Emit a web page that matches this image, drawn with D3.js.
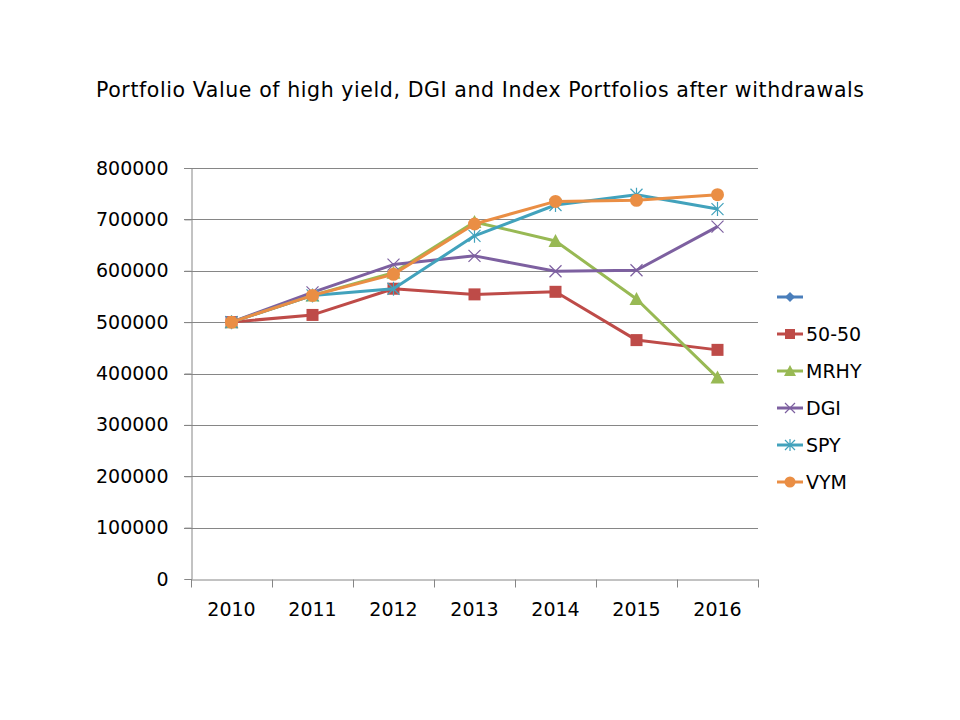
<!DOCTYPE html>
<html>
<head>
<meta charset="utf-8">
<script src="https://cdn.jsdelivr.net/npm/d3@7"></script>
<style>
  body { margin: 0; background: #fff; }
  text { font-family: "DejaVu Sans", sans-serif; fill: #000; }
</style>
</head>
<body>
<div id="chart"></div>
<script>
const years = ["2010", "2011", "2012", "2013", "2014", "2015", "2016"];
const yTicks = [0, 100000, 200000, 300000, 400000, 500000, 600000, 700000, 800000];

// first series has no name and no values, it only shows in the legend
const blank = [null, null, null, null, null, null, null];
const fiftyFifty = [500000, 514000, 565000, 554000, 559000, 465000, 446000];
const mrhy = [500000, 552000, 596000, 695000, 658000, 545000, 392000];
const dgi = [500000, 558000, 612000, 629000, 599000, 601000, 686000];
const spy = [500000, 552000, 565000, 668000, 728000, 748000, 720000];
const vym = [500000, 552000, 593000, 691000, 735000, 737000, 748000];

const series = [
  { name: "", values: blank, color: "#4A7EBB", marker: "diamond" },
  { name: "50-50", values: fiftyFifty, color: "#BE4B48", marker: "square" },
  { name: "MRHY", values: mrhy, color: "#98B954", marker: "triangle" },
  { name: "DGI", values: dgi, color: "#7D60A0", marker: "x" },
  { name: "SPY", values: spy, color: "#42A2BC", marker: "star" },
  { name: "VYM", values: vym, color: "#EA8E44", marker: "circle" }
];

const width = 960, height = 720;
const margin = { left: 191, right: 202, top: 168, bottom: 141 };

const svg = d3.select("#chart").append("svg")
  .attr("width", width)
  .attr("height", height);

const x = d3.scaleBand()
  .domain(years)
  .range([margin.left, width - margin.right]);

const y = d3.scaleLinear()
  .domain([0, 800000])
  .range([height - margin.bottom, margin.top]);

svg.append("text")
  .attr("x", 480)
  .attr("y", 97)
  .attr("text-anchor", "middle")
  .attr("textLength", 768)
  .style("font-size", "20.5px")
  .text("Portfolio Value of high yield, DGI and Index Portfolios after withdrawals");

// gridlines
svg.append("g")
  .selectAll("line")
  .data(yTicks.filter(d => d > 0))
  .join("line")
  .attr("x1", margin.left - 7)
  .attr("x2", width - margin.right)
  .attr("y1", d => Math.round(y(d)) + 0.5)
  .attr("y2", d => Math.round(y(d)) + 0.5)
  .attr("stroke", "#868686");

// y axis
const yAxis = svg.append("g")
  .attr("transform", `translate(${margin.left + 0.5},0)`)
  .call(d3.axisLeft(y).tickValues(yTicks).tickFormat(d3.format("d")).tickSize(7).tickPadding(16));
yAxis.select(".domain").attr("stroke", "#868686");
yAxis.selectAll(".tick line").attr("stroke", "#868686");
yAxis.selectAll("text").style("font-size", "19px").style("font-family", "DejaVu Sans, sans-serif");

// x axis, ticks on category boundaries
const xAxis = svg.append("g")
  .attr("transform", `translate(0,${Math.round(y(0)) + 0.5})`)
  .call(d3.axisBottom(x).tickSize(0).tickPadding(23));
xAxis.select(".domain").attr("stroke", "#868686");
xAxis.selectAll("text").style("font-size", "19px").style("font-family", "DejaVu Sans, sans-serif");
xAxis.append("g")
  .selectAll("line")
  .data(years.map(d => x(d)).concat([x(years[years.length - 1]) + x.bandwidth()]))
  .join("line")
  .attr("x1", d => Math.round(d) + 0.5)
  .attr("x2", d => Math.round(d) + 0.5)
  .attr("y1", 0)
  .attr("y2", 8)
  .attr("stroke", "#868686");

const cx = d => x(d) + x.bandwidth() / 2;

const line = d3.line()
  .defined(d => d.v != null)
  .x(d => cx(d.year))
  .y(d => y(d.v));

function drawMarker(g, type, color, size) {
  const s = size;
  if (type === "square") {
    g.append("rect").attr("x", -s).attr("y", -s).attr("width", 2 * s).attr("height", 2 * s).attr("fill", color);
  } else if (type === "diamond") {
    g.append("path").attr("d", `M0,${-s}L${s},0L0,${s}L${-s},0Z`).attr("fill", color);
  } else if (type === "triangle") {
    g.append("path").attr("d", `M0,${-s - 1}L${s + 1},${s}L${-s - 1},${s}Z`).attr("fill", color);
  } else if (type === "circle") {
    g.append("circle").attr("r", s + 0.5).attr("fill", color);
  } else if (type === "x") {
    g.append("path").attr("d", `M${-s},${-s}L${s},${s}M${-s},${s}L${s},${-s}`)
      .attr("stroke", color).attr("stroke-width", 1.2).attr("fill", "none");
  } else if (type === "star") {
    g.append("path").attr("d", `M${-s},${-s}L${s},${s}M${-s},${s}L${s},${-s}M0,${-s - 1}L0,${s + 1}`)
      .attr("stroke", color).attr("stroke-width", 1.2).attr("fill", "none");
  }
}

const plot = svg.append("g");
series.forEach(s => {
  const pts = years.map((yr, i) => ({ year: yr, v: s.values[i] }));
  plot.append("path")
    .datum(pts)
    .attr("fill", "none")
    .attr("stroke", s.color)
    .attr("stroke-width", 3)
    .attr("stroke-linejoin", "round")
    .attr("d", line);
  pts.filter(p => p.v != null).forEach(p => {
    const g = plot.append("g").attr("transform", `translate(${cx(p.year)},${y(p.v)})`);
    drawMarker(g, s.marker, s.color, 6);
  });
});

// legend
const legend = svg.append("g");
series.forEach((s, i) => {
  const ly = 297 + i * 37;
  const g = legend.append("g").attr("transform", `translate(777,${ly})`);
  g.append("line").attr("x1", 0).attr("x2", 26).attr("stroke", s.color).attr("stroke-width", 3);
  const m = g.append("g").attr("transform", "translate(13,0)");
  drawMarker(m, s.marker, s.color, 5);
  g.append("text")
    .attr("x", 29)
    .attr("dy", "0.35em")
    .style("font-size", "19px")
    .text(s.name);
});
</script>
</body>
</html>
